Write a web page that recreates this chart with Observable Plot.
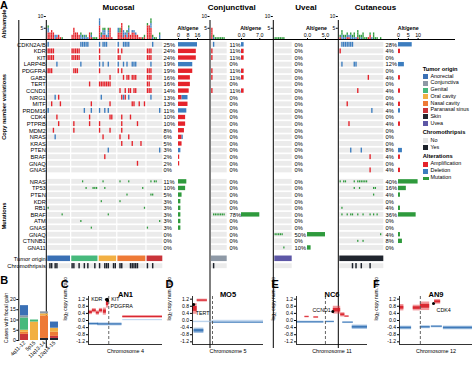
<!DOCTYPE html>
<html><head><meta charset="utf-8">
<script src="https://cdn.jsdelivr.net/npm/d3@7"></script>
<script src="https://cdn.jsdelivr.net/npm/@observablehq/plot@0.6"></script>
<style>
body{margin:0;background:#fff;}
#chart{position:relative;width:474px;height:367px;overflow:hidden;background:#fff;}
#chart svg{position:absolute;left:0;top:0;}
.t{position:absolute;white-space:nowrap;line-height:1;color:#000;}
.sw{position:absolute;}
</style></head><body><div id="chart"></div>
<script>
// ================= DATA =================
const cnvGenes = ["CDKN2A/B","KDR","KIT","LARP4B","PDGFRA","GAB2","TERT","CCND1","NRG1","MITF","PRDM16","CDK4","PTPRB","MDM2","NRAS","KRAS","PTEN","BRAF","GNAQ","GNAS"];
const mutGenes = ["NRAS","TP53","PTEN","KDR","RB1","BRAF","ATM","GNAS","GNAQ","CTNNB1","GNA11"];
const cohortNames = ["Mucosal","Conjunctival","Uveal","Cutaneous"];
const originNames = ["Anorectal","Conjunctiva","Genital","Oral cavity","Nasal cavity","Paranasal sinus","Skin","Uvea"];
const originColors = ["#3a70b5","#8e99a6","#46b97c","#f2b043","#ee7a36","#c9343a","#20252e","#5d57a6"];
const alterationNames = ["Amplification","Deletion","Mutation"];
const chromothripsisNames = ["No","Yes"];

const mucosalGroups = [["Anorectal",13],["Genital",15],["Oral cavity",10],["Nasal cavity",16],["Paranasal sinus",9]];
const conjunctivalGroups = [["Conjunctiva",9]];
const uvealGroups = [["Uvea",10]];
const cutaneousGroups = [["Skin",25]];

const mucosalAmp = {
  "KDR":[0,1,2,3,13,14,15,16,17,28,38,40,54,55,56],
  "KIT":[0,1,2,3,13,14,15,16,17,28,38,39,54,55,56],
  "PDGFRA":[0,1,2,14,15,16,28,38,40,54,55,56],
  "GAB2":[34,41,43,44,46,47,48,54,55,56],
  "TERT":[23,28,29,30,31,32,33,34,54,55],
  "CCND1":[39,42,44,45,47,48,54,55,56],
  "NRG1":[6,40,42],
  "MITF":[2,7,24,34,46,47,50,53],
  "CDK4":[5,23,34,35,40,45],
  "PTPRB":[6,14,23,28,40,49],
  "MDM2":[3,14,28,34,40],
  "NRAS":[30,39,44],
  "KRAS":[40,46,51],
  "BRAF":[31],
  "GNAQ":[49]
};
const mucosalDel = {
  "CDKN2A/B":[0,18,19,20,21,22,28,30,31,32,38,41,42,43,44,57],
  "LARP4B":[5,18,28,30,33,38,41,43,46,47,48,56],
  "NRG1":[4,29,41,44,56],
  "PRDM16":[0,20,24,28,31,33,61],
  "NRAS":[4],
  "PTEN":[33,61]
};
const mucosalMut = {
  "NRAS":[19,30,39,44,56,58,59], "TP53":[21,25,26,27,31,52], "PTEN":[43,56,57],
  "KDR":[29,39], "RB1":[0,53], "BRAF":[8,33], "ATM":[18,61], "GNAS":[24,54]
};
const mucosalChromo = [1,2,4,5,13,14,17,20,22,26,28,31,32,33,36,37,39,40,45,46,47,48,49,54,57];

const conjunctivalAmp = {"KDR":[0],"KIT":[0],"PDGFRA":[0],"GAB2":[0],"CCND1":[0]};
const conjunctivalDel = {"CDKN2A/B":[1]};
const conjunctivalMut = {"BRAF":[1,2,3,4,5,6,7]};
const conjunctivalChromo = [1];

const uvealAmp = {};
const uvealDel = {};
const uvealMut = {"GNAQ":[0,1,2,3,4],"GNA11":[5]};
const uvealChromo = [];

const cutaneousAmp = {"KDR":[0],"GAB2":[16],"CCND1":[10],"MITF":[4],"PTPRB":[5],"BRAF":[17],"GNAS":[17]};
const cutaneousDel = {"CDKN2A/B":[1,2,3,4,5,6,7],"LARP4B":[1,8,9],"PRDM16":[18],"PTEN":[6,12]};
const cutaneousMut = {"NRAS":[0,2,3,8,10,11,12,13,14,15],"TP53":[8,11,19,20],"PTEN":[19],"RB1":[1],
  "BRAF":[1,4,6,7,10,13,17,19,21],"GNAQ":[23],"CTNNB1":[10,13]};
const cutaneousChromo = [7,9,12,17];

// Panel B
const bRegions = ["4q11-12","5p15","11q13-14","12q14-15"];
const bSkin      = [0,0,1,1];
const bParanasal = [3,0,0,1];
const bNasal     = [1,0,11,2];
const bOral      = [1,9,1,2];
const bGenital   = [6,1,0,0];
const bConjunctiva=[1,0,1,0];
const bAnorectal = [5,0,0,3];

// Panels C-F : segments [start Mb, end Mb, log2 ratio, spread]
const cnSamples = ["AN1","MO5","NC6","AN9"];
const cnChromosomes = ["Chromosome 4","Chromosome 5","Chromosome 11","Chromosome 12"];
const cnLengths = [190,181,135,133];
const cnCentromeres = [52,51,55,38];
const an1Gain = [[0,10,0.45,0.12],[10,20,0.55,0.12],[20,28,0.42,0.12],[28,36,0.55,0.13],[38,46,0.5,0.2],[46,52,0.95,0.25],[88,190,0.2,0.07]];
const an1Loss = [[0,26,-0.2,0.07],[24,86,-0.22,0.08]];
const an1Flat = [[88,190,0.02,0.03]];
const mo5Gain = [[0,12,0.65,0.3],[12,38,1.12,0.08]];
const mo5Loss = [[4,29,-0.58,0.15],[50,181,-0.12,0.05]];
const mo5Flat = [[0,50,-0.08,0.04],[50,181,-0.02,0.03]];
const nc6Gain = [[16,24,0.2,0.05],[33,42,0.17,0.05],[70,84,0.58,0.22],[84,92,0.32,0.12],[92,100,0.22,0.05]];
const nc6Loss = [[0,52,-0.1,0.06],[55,72,-0.08,0.05],[88,108,-0.12,0.05],[106,135,-0.38,0.12]];
const nc6Flat = [];
const an9Gain = [[0,8,0.72,0.18],[25,38,0.7,0.16],[38,55,0.8,0.24],[64,75,1.05,0.13]];
const an9Loss = [[1,22,-0.42,0.1],[38,56,-0.38,0.08],[58,78,-0.35,0.06],[80,133,-0.42,0.1]];
const an9Flat = [];
const an1Genes = [["KDR",46,1.18],["KIT",48,1.2],["PDGFRA",49,1.12]];
const mo5Genes = [["TERT",3,0.9]];
const nc6Genes = [["CCND1",69,0.5]];
const an9Genes = [["CDK4",62,0.95]];

// ================= SETUP =================
function fontAvailable(name){
  const c=document.createElement("canvas").getContext("2d");
  const s="CDKN2A/B Mucosal 0123 %";
  c.font="20px monospace"; const w0=c.measureText(s).width;
  c.font=`20px '${name}', monospace`; const w1=c.measureText(s).width;
  return Math.abs(w0-w1)>0.5;
}
const hasNarrow = fontAvailable("Liberation Sans Narrow");
const NF = hasNarrow ? "'Liberation Sans Narrow', sans-serif" : "'Liberation Sans', Arial, sans-serif";
const RF = "'Liberation Sans', Arial, sans-serif";
const K = hasNarrow ? 1 : 0.82;
const fs = v => +(v*K).toFixed(2);

const chart = document.getElementById("chart");
const W = 474, H = 367;
const ALT = {amp:"#e5232b", del:"#3c7dbf", mut:"#2e9a3c"};
const CELL = "#ebebeb";
const originColor = o => originColors[originNames.indexOf(o)];
function st(size){ return `background:transparent;font-family:${NF};font-size:${size}px;overflow:visible;`; }
function add(svg){ svg.style.position="absolute"; svg.style.left="0px"; svg.style.top="0px"; chart.appendChild(svg); }
function txt(text, x, y, o={}){
  const d=document.createElement("div"); d.className="t"; d.textContent=text;
  const size=o.size||fs(7);
  d.style.left=x+"px"; d.style.top=y+"px"; d.style.fontSize=size+"px";
  d.style.fontFamily=o.family||NF; d.style.fontWeight=o.bold?"bold":"normal";
  const ax = o.anchor==="middle"?"-50%":o.anchor==="end"?"-100%":"0";
  d.style.transform = o.rotate ? `translate(-50%,-50%) rotate(${o.rotate}deg)` : `translate(${ax},-50%)`;
  chart.appendChild(d);
}

// rows
const MUT0 = 20.73, ORIGIN_ROW = 32.37, CHROMO_ROW = 33.49;
const rowsCNV = cnvGenes.map((g,i)=>({name:g, y:i}));
const rowsMut = mutGenes.map((g,j)=>({name:g, y:MUT0+j}));
const ys = {domain:[0,CHROMO_ROW], range:[44.3,265.7], axis:null};

function layoutCohort(groups, gap){
  let p=0; const starts=[], sampleX=[];
  groups.forEach(([o,n],gi)=>{ if(gi>0) p+=gap; starts.push({origin:o,x1:p,x2:p+n}); for(let i=0;i<n;i++) sampleX.push(p+i); p+=n; });
  return {starts, sampleX, units:p};
}

const cohorts = [
  {groups:mucosalGroups, amp:mucosalAmp, del:mucosalDel, mut:mucosalMut, chromo:mucosalChromo, gap:0.7, gx:[47.3,162.3], bx:[178,197], bmax:16, bticks:[0,8,16], pdx:-15, labels:true, title:118.5},
  {groups:conjunctivalGroups, amp:conjunctivalAmp, del:conjunctivalDel, mut:conjunctivalMut, chromo:conjunctivalChromo, gap:0, gx:[211,226.7], bx:[241,259.3], bmax:7, bticks:[0,7], pdx:-12, title:231.7},
  {groups:uvealGroups, amp:uvealAmp, del:uvealDel, mut:uvealMut, chromo:uvealChromo, gap:0, gx:[274.3,291.7], bx:[307,325], bmax:5, bticks:[0,5], pdx:-13, title:306},
  {groups:cutaneousGroups, amp:cutaneousAmp, del:cutaneousDel, mut:cutaneousMut, chromo:cutaneousChromo, gap:0, gx:[339.3,383.3], bx:[398,417.6], bmax:10, bticks:[0,5,10], pdx:-13, title:375.5}
];

cohorts.forEach((c,ci)=>{
  const L = layoutCohort(c.groups, c.gap);
  const n = L.sampleX.length;
  const xs = {domain:[0,L.units], range:c.gx, axis:null};
  const cells=[], origin=[], alts=[];
  L.starts.forEach(g=>{
    [...rowsCNV, ...rowsMut, {y:CHROMO_ROW}].forEach(r=>cells.push({x1:g.x1,x2:g.x2,y:r.y}));
    origin.push({x1:g.x1,x2:g.x2,color:originColor(g.origin)});
  });
  rowsCNV.forEach(r=>{
    (c.amp[r.name]||[]).forEach(s=>alts.push({s,x:L.sampleX[s],y:r.y,type:"amp"}));
    (c.del[r.name]||[]).forEach(s=>alts.push({s,x:L.sampleX[s],y:r.y,type:"del"}));
  });
  rowsMut.forEach(r=>(c.mut[r.name]||[]).forEach(s=>alts.push({s,x:L.sampleX[s],y:r.y,type:"mut"})));
  const chromo = c.chromo.map(s=>({x:L.sampleX[s]}));

  // oncoprint grid
  const rowLabels = [...rowsCNV, ...rowsMut, {name:"Tumor origin",y:ORIGIN_ROW},{name:"Chromothripsis",y:CHROMO_ROW}];
  add(Plot.plot({width:W,height:H,style:st(fs(7)),marginLeft:c.gx[0],
    x:xs, y:ys, color:{type:"identity"},
    marks:[
      Plot.rect(cells,{x1:"x1",x2:"x2",y1:d=>d.y-0.37,y2:d=>d.y+0.37,fill:CELL}),
      Plot.rect(origin,{x1:"x1",x2:"x2",y1:()=>ORIGIN_ROW-0.42,y2:()=>ORIGIN_ROW+0.42,fill:"color"}),
      Plot.rect(chromo,{x1:"x",x2:d=>d.x+1,y1:()=>CHROMO_ROW-0.4,y2:()=>CHROMO_ROW+0.4,fill:"#1d222b",insetLeft:0.15,insetRight:0.15}),
      Plot.rect(alts.filter(d=>d.type!=="mut"),{x1:"x",x2:d=>d.x+1,y1:d=>d.y-0.37,y2:d=>d.y+0.37,fill:d=>ALT[d.type],insetLeft:0.2,insetRight:0.2}),
      Plot.rect(alts.filter(d=>d.type==="mut"),{x1:"x",x2:d=>d.x+1,y1:d=>d.y-0.15,y2:d=>d.y+0.15,fill:ALT.mut,insetLeft:0.25,insetRight:0.25}),
      c.labels ? Plot.text(rowLabels,{y:"y",text:"name",frameAnchor:"left",textAnchor:"end",dx:-2,fontSize:fs(7)}) : null
    ]}));

  // alterations per sample histogram
  const ord = {amp:0,del:1,mut:2};
  const hist = alts.slice().sort((a,b)=>ord[a.type]-ord[b.type]);
  add(Plot.plot({width:W,height:H,style:st(fs(6)),marginLeft:c.gx[0]-1.5,
    x:xs, y:{domain:[0,10],range:[39.5,16],ticks:[5,10],tickSize:2,tickPadding:1,line:true,label:null},
    color:{type:"identity"},
    marks:[Plot.rectY(hist,{x1:"x",x2:d=>d.x+1,y:()=>1,fill:d=>ALT[d.type],insetLeft:0.2,insetRight:0.2})]}));

  // alterations per gene
  const barData=[], pct=[];
  rowsCNV.forEach(r=>{
    const a=(c.amp[r.name]||[]), d=(c.del[r.name]||[]);
    if(a.length) barData.push({y:r.y,type:"amp",count:a.length});
    if(d.length) barData.push({y:r.y,type:"del",count:d.length});
    pct.push({y:r.y,label:Math.round(100*new Set([...a,...d]).size/n)+"%"});
  });
  rowsMut.forEach(r=>{
    const m=(c.mut[r.name]||[]);
    if(m.length) barData.push({y:r.y,type:"mut",count:m.length});
    pct.push({y:r.y,label:Math.round(100*new Set(m).size/n)+"%"});
  });
  add(Plot.plot({width:W,height:H,style:st(fs(6.5)),marginTop:39,
    x:{domain:[0,c.bmax],range:c.bx,axis:"top",ticks:c.bticks,tickSize:2,tickPadding:1,line:true,label:null},
    y:ys, color:{type:"identity"},
    marks:[
      Plot.rectX(barData,{x:"count",y1:d=>d.y-0.33,y2:d=>d.y+0.33,fill:d=>ALT[d.type]}),
      Plot.text(pct,{x:()=>0,y:"y",text:"label",textAnchor:"start",dx:c.pdx,fontSize:fs(7)}),
      Plot.text(["Alt/gene"],{x:[c.bmax/2],frameAnchor:"top",dy:-13,fontWeight:"bold",fontSize:fs(6.5)})
    ]}));

  txt(cohortNames[ci], c.title, 8.3, {anchor:"middle", bold:true, size:8, family:RF});
});

// ================= PANEL B =================
const bStack = [["Skin",bSkin],["Paranasal sinus",bParanasal],["Nasal cavity",bNasal],["Oral cavity",bOral],["Genital",bGenital],["Conjunctiva",bConjunctiva],["Anorectal",bAnorectal]];
const bData = [];
bStack.forEach(([o,vals])=>vals.forEach((v,i)=>{ if(v>0) bData.push({region:bRegions[i],origin:o,count:v}); }));
add(Plot.plot({width:W,height:H,style:st(fs(6.3)),marginLeft:18.3,marginBottom:27,
  x:{domain:bRegions,range:[19.3,59],paddingInner:0.16,paddingOuter:0.04,tickRotate:-45,tickSize:0,tickPadding:1.5,label:null},
  y:{domain:[0,20],range:[340,299],ticks:[0,5,10,15,20],tickSize:2,tickPadding:1,line:true,label:null},
  color:{type:"identity"},
  marks:[Plot.barY(bData,{x:"region",y:"count",fill:d=>originColor(d.origin)})]}));
txt("Cases with focal gain", 6.5, 318, {rotate:-90, size:fs(6.5)});

// ================= PANELS C-F =================
const cnFrames = [[88,162],[192,263],[296,367],[399,472]];
const cnGain = [an1Gain,mo5Gain,nc6Gain,an9Gain];
const cnLoss = [an1Loss,mo5Loss,nc6Loss,an9Loss];
const cnFlat = [an1Flat,mo5Flat,nc6Flat,an9Flat];
const cnGenes = [an1Genes,mo5Genes,nc6Genes,an9Genes];
const geneLabelStyle = {
  KDR:{textAnchor:"end",dx:-4,dy:0}, KIT:{textAnchor:"start",dx:4,dy:0}, PDGFRA:{textAnchor:"start",dx:3,dy:6},
  TERT:{textAnchor:"start",dx:2,dy:9}, CCND1:{textAnchor:"end",dx:-2,dy:-1}, CDK4:{textAnchor:"start",dx:3,dy:7}
};
cnSamples.forEach((s,k)=>{
  const [x0,x1] = cnFrames[k];
  const seg = (arr, color, op, f) => Plot.rect(arr,{x1:d=>d[0],x2:d=>d[1],y1:d=>d[2]-d[3]*f,y2:d=>d[2]+d[3]*f,fill:color,fillOpacity:op});
  add(Plot.plot({width:W,height:H,style:st(fs(6.2)),
    marginLeft:x0,marginRight:W-x1,marginTop:296,marginBottom:23,
    x:{domain:[0,cnLengths[k]],axis:null},
    y:{domain:[-1.35,1.35],ticks:[-1.2,-0.8,-0.4,0,0.4,0.8,1.2],tickFormat:d=>d.toFixed(1),tickSize:2,tickPadding:1.5,label:null},
    marks:[
      seg(cnFlat[k],"#9fc2e6",0.7,1),
      seg(cnLoss[k],"#4a86c6",0.5,1),
      seg(cnLoss[k],"#2f6db2",0.85,0.45),
      seg(cnGain[k],"#e8333b",0.5,1),
      seg(cnGain[k],"#d4141e",0.85,0.45),
      Plot.ruleX([cnCentromeres[k]],{stroke:"#555",strokeDasharray:"3,2",strokeWidth:0.9}),
      Plot.ruleX([0],{stroke:"#000",strokeWidth:0.8}),
      Plot.ruleY([-1.35],{stroke:"#000",strokeWidth:0.8}),
      Plot.dot(cnGenes[k],{x:d=>d[1],y:d=>d[2],r:1.5,fill:"#000"}),
      ...cnGenes[k].map(g=>Plot.text([g],{x:d=>d[1],y:d=>d[2],text:d=>d[0],fontSize:fs(6.5),...geneLabelStyle[g[0]]})),
      Plot.text([s],{frameAnchor:"top",dy:-5,fontWeight:"bold",fontSize:7.5,fontFamily:RF}),
      Plot.text([cnChromosomes[k]],{frameAnchor:"bottom",dy:8,fontSize:fs(6.6)}),
      Plot.text(["log\u2082 copy num. ratio"],{frameAnchor:"left",rotate:-90,dx:-23,fontSize:fs(6)})
    ]}));
});

// ================= TEXT LABELS =================
txt("A", 0, 5, {bold:true, size:11, family:RF});
txt("B", 0.3, 279.5, {bold:true, size:11, family:RF});
txt("C", 60.7, 284, {bold:true, size:11, family:RF});
txt("D", 165.5, 284, {bold:true, size:11, family:RF});
txt("E", 271.5, 284, {bold:true, size:11, family:RF});
txt("F", 373, 284, {bold:true, size:11, family:RF});
txt("Alt/sample", 5, 24, {rotate:-90, bold:true, size:fs(7)});
txt("Copy number variations", 5, 107, {rotate:-90, bold:true, size:fs(7)});
txt("Mutations", 5, 216, {rotate:-90, bold:true, size:fs(7)});

// ================= LEGEND =================
const LX = 422.7, pitch = 6.7;
function sw(x, y, color, w, h){
  const d=document.createElement("div"); d.className="sw";
  d.style.left=x+"px"; d.style.top=(y-h/2)+"px"; d.style.width=w+"px"; d.style.height=h+"px"; d.style.background=color;
  chart.appendChild(d);
}
let ly = 70;
txt("Tumor origin", LX, ly, {bold:true, size:fs(7)});
originNames.forEach((o,i)=>{ ly += pitch; sw(LX, ly, originColors[i], 5.6, 5.2); txt(o, LX+7.8, ly, {size:fs(6.6)}); });
ly = 133.3;
txt("Chromothripsis", LX, ly, {bold:true, size:fs(7)});
const chromoCols = ["#e6e6e6","#1d222b"];
chromothripsisNames.forEach((o,i)=>{ ly += pitch+0.6; sw(LX, ly, chromoCols[i], 5.6, 5.2); txt(o, LX+7.8, ly, {size:fs(6.6)}); });
ly = 157.3;
txt("Alterations", LX, ly, {bold:true, size:fs(7)});
const altCols = [ALT.amp, ALT.del, ALT.mut];
alterationNames.forEach((o,i)=>{ ly += pitch+0.3; sw(LX, ly, altCols[i], i===2?6.2:5.6, i===2?2.8:5.2); txt(o, LX+7.8, ly, {size:fs(6.6)}); });
</script></body></html>
